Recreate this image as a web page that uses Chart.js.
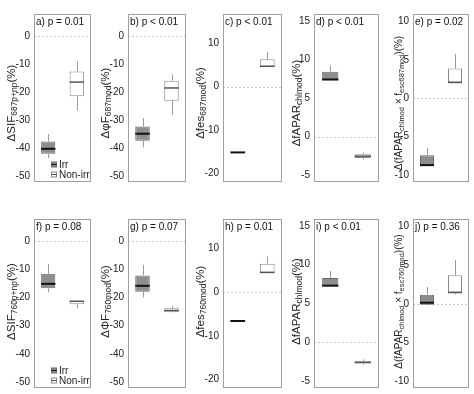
<!DOCTYPE html>
<html>
<head>
<meta charset="utf-8">
<script src="https://cdn.jsdelivr.net/npm/chart.js@4.4.1/dist/chart.umd.min.js"></script>
<style>
html, body { margin: 0; padding: 0; background: #fff; }
#wrap { position: relative; width: 474px; height: 394px; }
canvas { position: absolute; }
</style>
</head>
<body>
<div id="wrap"></div>
<script>
var groups = ['Irr', 'Non-irr']
var tags = ['a) p = 0.01', 'b) p < 0.01', 'c) p < 0.01', 'd) p < 0.01', 'e) p = 0.02',
            'f) p = 0.08', 'g) p = 0.07', 'h) p = 0.01', 'i) p < 0.01', 'j) p = 0.36']

// one [Irr, Non-irr] pair per panel, a..j
var whiskerLow  = [[-43.6, -26.6], [-39.8, -28.1], [-15.1, 4.6], [7.3, -3.0], [-8.8, 1.95],
                   [-18.1, -23.8], [-19.9, -25.3], [-6.6, 4.4], [7.25, -2.9], [-0.2, 1.2]]
var q1          = [[-42.1, -21.5], [-37.4, -23.1], [-15.1, 4.6], [7.3, -2.8], [-8.8, 1.95],
                   [-16.7, -22.4], [-17.9, -25.2], [-6.6, 4.4], [7.25, -2.75], [-0.1, 1.35]]
var median      = [[-40.3, -16.4], [-34.9, -18.5], [-15.1, 4.7], [7.4, -2.55], [-8.7, 2.1],
                   [-15.1, -21.3], [-15.8, -24.6], [-6.6, 4.5], [7.3, -2.6], [0.15, 1.5]]
var q3          = [[-37.7, -12.6], [-32.3, -15.9], [-15.1, 6.3], [8.4, -2.3], [-7.4, 3.9],
                   [-11.5, -21.2], [-12.1, -23.8], [-6.6, 6.5], [8.3, -2.4], [1.2, 3.7]]
var whiskerHigh = [[-35.0, -9.0], [-29.3, -13.7], [-15.1, 8.0], [9.2, -2.1], [-6.5, 5.8],
                   [-8.1, -21.2], [-8.3, -22.9], [-6.6, 8.2], [9.2, -2.2], [2.2, 5.7]]

var yMin = [-52.2, -52.2, -21.9, -5.9, -10.9, -52.2, -52.2, -21.9, -5.9, -10.9]
var yMax = [8, 8, 16.7, 15.9, 11, 8, 8, 16.7, 15.9, 11]
var yTicks = [
  [-50, -40, -30, -20, -10, 0], [-50, -40, -30, -20, -10, 0], [-20, -10, 0, 10], [-5, 0, 5, 10, 15], [-10, -5, 0, 5, 10],
  [-50, -40, -30, -20, -10, 0], [-50, -40, -30, -20, -10, 0], [-20, -10, 0, 10], [-5, 0, 5, 10, 15], [-10, -5, 0, 5, 10]
]

// [text, isSubscript]
var yTitles = [
  [['ΔSIF', 0], ['687p+np', 1], ['(%)', 0]],
  [['ΔφF', 0], ['687mod', 1], ['(%)', 0]],
  [['Δfes', 0], ['687mod', 1], ['(%)', 0]],
  [['ΔfAPAR', 0], ['chlmod', 1], ['(%)', 0]],
  [['Δ(fAPAR', 0], ['chlmod', 1], [' × f', 0], ['esc687mod', 1], [')(%)', 0]],
  [['ΔSIF', 0], ['760p+np', 1], ['(%)', 0]],
  [['ΔΦF', 0], ['760mod', 1], ['(%)', 0]],
  [['Δfes', 0], ['760mod', 1], ['(%)', 0]],
  [['ΔfAPAR', 0], ['chlmod', 1], ['(%)', 0]],
  [['Δ(fAPAR', 0], ['chlmod', 1], [' × f', 0], ['esc760mod', 1], [')(%)', 0]]
]

// layout
var colLeft = [0, 93, 188, 284, 381]
var frameL = [34, 128, 223, 314, 413]
var frameR = [91, 186, 282, 379, 469]
var titleOff = [23, 23, 23, 18, 15]
var titleSize = [11.5, 11.5, 11.5, 11.5, 10]
var titleDy = [5, -2]
var rowTop = [0, 195]
var rowH = [195, 199]
var padTop = [14, 24]
var padBot = [13, 6]

var FONT = '"Liberation Sans", Arial, sans-serif'
var boxFill = ['#8e8e8e', '#ffffff']
var boxLine = ['#6a6a6a', '#8a8a8a']
var medColor = ['#111111', '#555555']
var medWidth = [2, 1.5]

function line(ctx, x1, y1, x2, y2) {
      ctx.beginPath(); ctx.moveTo(x1, y1); ctx.lineTo(x2, y2); ctx.stroke()
}

function drawRich(ctx, parts, cx, cy, size) {
      var big = size + 'px ' + FONT, small = (size * 0.74) + 'px ' + FONT
      var w = 0
      parts.forEach(function (p) { ctx.font = p[1] ? small : big; w += ctx.measureText(p[0]).width })
      ctx.save()
      ctx.translate(cx, cy)
      ctx.rotate(-Math.PI / 2)
      ctx.fillStyle = '#222'
      ctx.textBaseline = 'alphabetic'
      var x = -w / 2
      parts.forEach(function (p) {
            ctx.font = p[1] ? small : big
            ctx.fillText(p[0], x, p[1] ? 6 : 4)
            x += ctx.measureText(p[0]).width
      })
      ctx.restore()
}

function legendIcon(ctx, x, y, g) {
      ctx.fillStyle = boxFill[g]; ctx.strokeStyle = boxLine[g]; ctx.lineWidth = 1
      ctx.fillRect(x - 2.5, y - 2.5, 5, 5)
      ctx.strokeRect(x - 2.5, y - 2.5, 5, 5)
      ctx.strokeStyle = medColor[g]
      line(ctx, x - 2.5, y, x + 2.5, y)
}

var boxParts = {
      id: 'boxParts',
      beforeDatasetsDraw: function (chart, args, opts) {
            var p = opts.panel, ctx = chart.ctx, a = chart.chartArea, ys = chart.scales.y
            ctx.save()
            var z = Math.round(ys.getPixelForValue(0)) + 0.5
            ctx.strokeStyle = '#c8c8c8'; ctx.lineWidth = 1; ctx.setLineDash([2, 2])
            line(ctx, a.left, z, a.right, z)
            ctx.setLineDash([])
            ctx.strokeStyle = '#9a9a9a'
            chart.getDatasetMeta(0).data.forEach(function (bar, i) {
                  var x = Math.round(bar.x) + 0.5
                  line(ctx, x, ys.getPixelForValue(whiskerHigh[p][i]), x, ys.getPixelForValue(q3[p][i]))
                  line(ctx, x, ys.getPixelForValue(q1[p][i]), x, ys.getPixelForValue(whiskerLow[p][i]))
            })
            ctx.restore()
      },
      afterDatasetsDraw: function (chart, args, opts) {
            var p = opts.panel, ctx = chart.ctx, ys = chart.scales.y
            ctx.save()
            chart.getDatasetMeta(0).data.forEach(function (bar, i) {
                  var yy = ys.getPixelForValue(median[p][i])
                  ctx.strokeStyle = medColor[i]; ctx.lineWidth = medWidth[i]
                  line(ctx, bar.x - bar.width / 2, yy, bar.x + bar.width / 2, yy)
            })
            ctx.restore()
      },
      afterDraw: function (chart, args, opts) {
            var p = opts.panel, ctx = chart.ctx, a = chart.chartArea
            var col = p % 5, row = Math.floor(p / 5)
            ctx.save()
            ctx.strokeStyle = '#a0a0a0'; ctx.lineWidth = 1
            ctx.strokeRect(a.left + 0.5, a.top + 0.5, a.right - a.left - 1, a.bottom - a.top - 1)
            ctx.fillStyle = '#111'
            ctx.font = '10px ' + FONT
            ctx.textBaseline = 'middle'
            ctx.textAlign = 'left'
            ctx.fillText(tags[p], a.left + 2, a.top + 8)
            if (col === 0) {
                  var ly = [a.bottom - 17.5, a.bottom - 7.5]
                  groups.forEach(function (g, i) {
                        legendIcon(ctx, a.left + 20, ly[i], i)
                        ctx.fillStyle = '#222'
                        ctx.font = '10px ' + FONT
                        ctx.fillText(g, a.left + 25, ly[i] + 0.5)
                  })
            }
            drawRich(ctx, yTitles[p], a.left - titleOff[col], (a.top + a.bottom) / 2 + titleDy[row], titleSize[col])
            ctx.restore()
      }
}

function makePanel(p) {
      var row = Math.floor(p / 5), col = p % 5
      var cv = document.createElement('canvas')
      var w = frameR[col] - colLeft[col] + 2
      var h = rowH[row]
      cv.width = w; cv.height = h
      cv.style.left = colLeft[col] + 'px'; cv.style.top = rowTop[row] + 'px'
      cv.style.width = w + 'px'; cv.style.height = h + 'px'
      document.getElementById('wrap').appendChild(cv)

      new Chart(cv, {
            type: 'bar',
            data: {
                  labels: groups,
                  datasets: [{
                        data: [[q1[p][0], q3[p][0]], [q1[p][1], q3[p][1]]],
                        backgroundColor: boxFill,
                        borderColor: boxLine,
                        borderWidth: 1,
                        borderSkipped: false,
                        barPercentage: 0.5,
                        categoryPercentage: 1
                  }]
            },
            options: {
                  animation: false,
                  responsive: false,
                  devicePixelRatio: 1,
                  layout: { padding: { top: padTop[row], bottom: padBot[row], left: 0, right: 2 } },
                  plugins: {
                        legend: { display: false },
                        tooltip: { enabled: false },
                        boxParts: { panel: p }
                  },
                  scales: {
                        x: { display: false },
                        y: {
                              min: yMin[p],
                              max: yMax[p],
                              grid: { display: false, drawTicks: false },
                              border: { display: false },
                              ticks: { color: '#222', font: { family: FONT, size: 10 }, padding: 4 },
                              afterBuildTicks: function (scale) {
                                    scale.ticks = yTicks[p].map(function (v) { return { value: v } })
                              },
                              afterFit: function (scale) {
                                    scale.width = frameL[col] - colLeft[col]
                                    scale.paddingTop = 0
                                    scale.paddingBottom = 0
                              }
                        }
                  }
            },
            plugins: [boxParts]
      })
}

for (var p = 0; p < 10; p++) makePanel(p)
</script>
</body>
</html>
